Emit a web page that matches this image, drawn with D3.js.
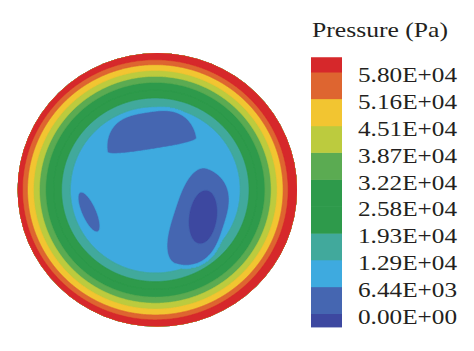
<!DOCTYPE html>
<html>
<head>
<meta charset="utf-8">
<script src="https://cdn.jsdelivr.net/npm/d3@7"></script>
<style>
  body { margin: 0; background: #fff; }
  svg { display: block; }
</style>
</head>
<body>
<div id="chart"></div>
<script>
// --- legend levels (Pa), low -> high ---
const levels = [0, 6440, 12900, 19300, 25800, 32200, 38700, 45100, 51600, 58000];
const tickLabels = ["0.00E+00", "6.44E+03", "1.29E+04", "1.93E+04", "2.58E+04",
                    "3.22E+04", "3.87E+04", "4.51E+04", "5.16E+04", "5.80E+04"];
// one colour per band: below 0, between each pair of levels, above 5.80E+04
const bandColors = ["#3d48a0", "#4566b1", "#3eaadf", "#41a99c", "#2e9a4b", "#2e9a4b",
                    "#5bab52", "#bccb3e", "#f2c531", "#de6530", "#d6282b"];

// radial pressure read along the disc radius (fraction of radius -> Pa)
const ringRadius   = [0, 0.55, 0.608, 0.671, 0.728, 0.785, 0.829, 0.872, 0.915, 0.95, 1.0];
const ringPressure = [9600, 9800, 12900, 19300, 25800, 32200, 38700, 45100, 51600, 58000, 63000];

// low pressure pockets traced on the 6.44E+03 / 0.00E+00 contours (px)
// rx = half length along the long axis, ry / ryLow = half width on either side of it
const pocketCx    = [152,   89,  191,  203];
const pocketCy    = [145,  212,  216,  217];
const pocketRx    = [ 45, 21.5,   50,   14];
const pocketRy    = [ 33,    7,   34,   27];
const pocketRyLow = [  4,    7,   17,   27];
const pocketAngle = [ -9,   66,  108,    8];
const pocketEnds  = [  3,    2,    3,    2];   // exponent: 2 = round ends, 3 = blunt
const pocketLevel = [6440, 6440, 6440,   0];

const W = 474, H = 351;
const disc = { cx: 157.3, cy: 189.8, rx: 139.7, ry: 136.8 };

const svg = d3.select("#chart").append("svg")
  .attr("width", W)
  .attr("height", H);

// --- pressure field on a pixel grid ---
const gx = 10, gy = 46, nx = 296, ny = 290;
const profile = d3.scaleLinear().domain(ringRadius).range(ringPressure).clamp(true);

const pockets = pocketCx.map((cx, i) => ({
  cx, cy: pocketCy[i], rx: pocketRx[i], ry: pocketRy[i], ryLow: pocketRyLow[i],
  angle: pocketAngle[i] * Math.PI / 180, ends: pocketEnds[i], level: pocketLevel[i]
}));

function pocketValue(p, px, py) {
  const dx = px - p.cx, dy = py - p.cy;
  const u = (dx * Math.cos(p.angle) + dy * Math.sin(p.angle)) / p.rx;
  const w = -dx * Math.sin(p.angle) + dy * Math.cos(p.angle);
  const v = w / (w < 0 ? p.ry : p.ryLow);
  const d = Math.sqrt(Math.pow(Math.abs(u), p.ends) + v * v);
  return Math.max(p.level - 3500, p.level + 30000 * (d - 1));
}

function field(px, py) {
  const u = (px - disc.cx + 2) / disc.rx;
  const v = (py - disc.cy) / disc.ry;
  let val = profile(Math.sqrt(u * u + v * v));

  const low = d3.min(pockets, p => pocketValue(p, px, py));
  // a pocket only reaches down from the flat core pressure
  if (low < ringPressure[0]) val = Math.min(val, low);
  return val;
}

const values = new Float64Array(nx * ny);
for (let j = 0; j < ny; j++) {
  for (let i = 0; i < nx; i++) {
    values[j * nx + i] = field(gx + i + 0.5, gy + j + 0.5);
  }
}

const contours = d3.contours()
  .size([nx, ny])
  .thresholds(levels)(values);

svg.append("clipPath")
  .attr("id", "disc-clip")
  .append("ellipse")
  .attr("cx", disc.cx).attr("cy", disc.cy)
  .attr("rx", disc.rx).attr("ry", disc.ry);

const plot = svg.append("g").attr("clip-path", "url(#disc-clip)");

plot.append("ellipse")
  .attr("cx", disc.cx).attr("cy", disc.cy)
  .attr("rx", disc.rx).attr("ry", disc.ry)
  .attr("fill", bandColors[0]);

plot.append("g")
  .attr("transform", `translate(${gx},${gy})`)
  .selectAll("path")
  .data(contours)
  .join("path")
  .attr("d", d3.geoPath())
  .attr("fill", (d, i) => bandColors[i + 1])
  .attr("stroke", (d, i) => bandColors[i + 1])
  .attr("stroke-width", 0.6);

// --- legend ---
const legendY = d3.scaleLinear()
  .domain([0, 58000])
  .range([313.5, 72]);
const stepPx = legendY(0) - legendY(6444);

const bandEdges = [legendY(0) + stepPx * 0.5]
  .concat(levels.map(v => legendY(v)))
  .concat([legendY(58000) - stepPx * 0.55]);

const legend = svg.append("g").attr("class", "legend");

legend.selectAll("rect")
  .data(bandColors)
  .join("rect")
  .attr("x", 311)
  .attr("width", 31)
  .attr("y", (d, i) => bandEdges[i + 1])
  .attr("height", (d, i) => bandEdges[i] - bandEdges[i + 1] + 0.5)
  .attr("fill", d => d);

legend.selectAll("text.tick")
  .data(levels)
  .join("text")
  .attr("class", "tick")
  .attr("x", 358)
  .attr("y", d => legendY(d) + 10.3)
  .attr("font-family", "'Liberation Serif', 'Times New Roman', serif")
  .attr("font-size", "21px")
  .attr("fill", "#231f20")
  .attr("textLength", 99)
  .attr("lengthAdjust", "spacingAndGlyphs")
  .text((d, i) => tickLabels[i]);

svg.append("text")
  .attr("x", 312)
  .attr("y", 36.7)
  .attr("font-family", "'Liberation Serif', 'Times New Roman', serif")
  .attr("font-size", "21px")
  .attr("fill", "#231f20")
  .attr("textLength", 136)
  .attr("lengthAdjust", "spacingAndGlyphs")
  .text("Pressure (Pa)");
</script>
</body>
</html>
